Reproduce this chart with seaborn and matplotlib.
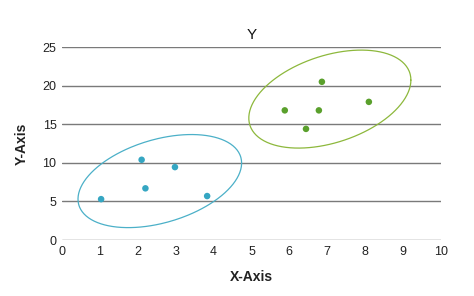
import numpy as np
import pandas as pd
import matplotlib
matplotlib.use("Agg")
import matplotlib.pyplot as plt
import seaborn as sns

# Data
blue_x = [1.03, 2.1, 2.2, 2.98, 3.83]
blue_y = [5.3, 10.4, 6.7, 9.45, 5.7]
green_x = [5.88, 6.44, 6.78, 6.86, 8.1]
green_y = [16.8, 14.4, 16.8, 20.5, 17.9]
x_ticks = [0, 1, 2, 3, 4, 5, 6, 7, 8, 9, 10]
y_ticks = [0, 5, 10, 15, 20, 25]

df = pd.DataFrame({
    "x": blue_x + green_x,
    "y": blue_y + green_y,
    "group": ["blue"] * len(blue_x) + ["green"] * len(green_x),
})

sns.set_theme(style="white")
plt.rcParams['font.family'] = ['Liberation Sans', 'DejaVu Sans']

fig = plt.figure(figsize=(4.74, 2.96), dpi=100)
ax = fig.add_axes([0.131, 0.189, 0.799, 0.652])

sns.scatterplot(data=df, x="x", y="y", hue="group",
                palette={"blue": "#35a6c2", "green": "#5aa02c"},
                s=22, edgecolor="none", legend=False, ax=ax, zorder=3)

def draw_ellipse(cx, cy, px, qy, ry, color):
    t = np.linspace(0, 2 * np.pi, 300)
    ex = cx + px * np.cos(t)
    ey = cy + qy * np.cos(t) + ry * np.sin(t)
    ax.plot(ex, ey, color=color, lw=0.9, zorder=2)

draw_ellipse(2.58, 7.64, 2.16, 2.33, 5.56, "#4bb0c8")
draw_ellipse(7.07, 18.26, 2.14, 2.46, 5.85, "#8db83c")

ax.set_xlim(0, 10)
ax.set_ylim(0, 25)
ax.set_xticks(x_ticks)
ax.set_yticks(y_ticks)
ax.set_xticklabels([str(v) for v in x_ticks], fontsize=9, color="#222222")
ax.set_yticklabels([str(v) for v in y_ticks], fontsize=9, color="#222222")
ax.grid(axis="y", color="#7a7a7a", lw=1.0)
ax.set_axisbelow(True)
for s in ax.spines.values():
    s.set_visible(False)
ax.tick_params(axis="both", length=0, pad=4)

ax.set_title("Y", fontsize=11, color="#111111", pad=6)
ax.set_xlabel("X-Axis", fontsize=10, fontweight="bold", color="#222222", labelpad=9)
ax.set_ylabel("Y-Axis", fontsize=10, fontweight="bold", color="#222222", labelpad=10)

fig.savefig("out.png", dpi=100)
